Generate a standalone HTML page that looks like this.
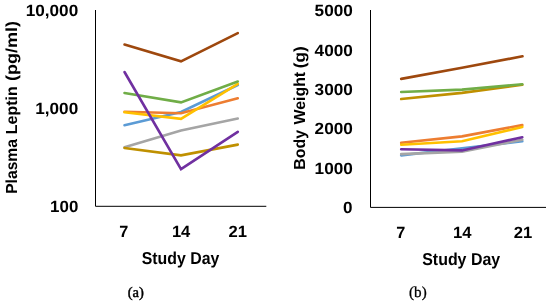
<!DOCTYPE html>
<html><head><meta charset="utf-8"><title>Figure</title>
<style>
html,body{margin:0;padding:0;background:#fff;}
svg{display:block;}
text{text-rendering:geometricPrecision;font-family:"Liberation Sans",sans-serif;font-weight:bold;fill:#000;}
.cap{font-family:"Liberation Serif",serif;font-weight:normal;stroke:#000;stroke-width:0.3;}
.ln{fill:none;stroke-width:2.6;stroke-linecap:round;stroke-linejoin:miter;}
</style></head>
<body>
<svg width="550" height="303" viewBox="0 0 550 303">
<rect width="550" height="303" fill="#fff"/>
<!-- left chart -->
<g>
<polyline class="ln" stroke="#5B9BD5" points="124.5,125.2 181,112 237.8,85"/>
<polyline class="ln" stroke="#ED7D31" points="124.5,111.7 181,113.2 237.8,98.3"/>
<polyline class="ln" stroke="#A5A5A5" points="124.5,147.3 181,130.5 237.8,118.6"/>
<polyline class="ln" stroke="#FFC000" points="124.5,112.3 181,118.9 237.8,83.9"/>
<polyline class="ln" stroke="#70AD47" points="124.5,93 181,102.4 237.8,81.5"/>
<polyline class="ln" stroke="#9E480E" points="124.5,44.6 181,61.3 237.8,33.2"/>
<polyline class="ln" stroke="#BF9000" points="124.5,148 181,155.4 237.8,144.6"/>
<polyline class="ln" stroke="#7030A0" points="124.5,72 181,169.2 237.8,131.8"/>
<path d="M95.5 10V206.3H266.3" fill="none" stroke="#000" stroke-width="1"/>
<text x="78.2" y="15.8" font-size="16.3" text-anchor="end" textLength="52.5" lengthAdjust="spacingAndGlyphs">10,000</text>
<text x="78.2" y="113.7" font-size="16.3" text-anchor="end" textLength="42.9" lengthAdjust="spacingAndGlyphs">1,000</text>
<text x="78.3" y="211.6" font-size="16.3" text-anchor="end" textLength="28.2" lengthAdjust="spacingAndGlyphs">100</text>
<text x="123.9" y="236.7" font-size="16.3" text-anchor="middle">7</text>
<text x="181.1" y="236.7" font-size="16.3" text-anchor="middle" textLength="18.4" lengthAdjust="spacingAndGlyphs">14</text>
<text x="237.8" y="236.7" font-size="16.3" text-anchor="middle" textLength="18.5" lengthAdjust="spacingAndGlyphs">21</text>
<text x="180.5" y="263.7" font-size="17.2" text-anchor="middle" textLength="77.6" lengthAdjust="spacingAndGlyphs">Study Day</text>
<text transform="translate(17.3 193.8) rotate(-90)" font-size="16" textLength="54.7" lengthAdjust="spacingAndGlyphs">Plasma</text>
<text transform="translate(17.3 134.2) rotate(-90)" font-size="16" textLength="48" lengthAdjust="spacingAndGlyphs">Leptin</text>
<text transform="translate(17.3 81) rotate(-90)" font-size="16" textLength="60" lengthAdjust="spacingAndGlyphs">(pg/ml)</text>
<text class="cap" x="135.8" y="296.7" font-size="14.6" text-anchor="middle" style="stroke-width:0.45">(a)</text>
</g>
<!-- right chart -->
<g>
<polyline class="ln" stroke="#5B9BD5" points="401.2,155.4 462,148.3 522.3,141.3"/>
<polyline class="ln" stroke="#ED7D31" points="401.2,142.8 462,136.4 522.3,125.1"/>
<polyline class="ln" stroke="#A5A5A5" points="401.2,154.1 462,151.6 522.3,139.7"/>
<polyline class="ln" stroke="#FFC000" points="401.2,144.7 462,141.3 522.3,126.9"/>
<polyline class="ln" stroke="#BF9000" points="401.2,99 462,92.9 522.3,84.8"/>
<polyline class="ln" stroke="#70AD47" points="401.2,92 462,89.6 522.3,84.3"/>
<polyline class="ln" stroke="#9E480E" points="401.2,78.9 462,67.8 522.5,56.3"/>
<polyline class="ln" stroke="#7030A0" points="401.2,149.3 462,150.4 522.3,137.2"/>
<path d="M370.5 10V207.4H546" fill="none" stroke="#000" stroke-width="1"/>
<text x="352.8" y="16.1" font-size="16.3" text-anchor="end" textLength="38.2" lengthAdjust="spacingAndGlyphs">5000</text>
<text x="352.8" y="55.5" font-size="16.3" text-anchor="end" textLength="38.2" lengthAdjust="spacingAndGlyphs">4000</text>
<text x="352.8" y="94.9" font-size="16.3" text-anchor="end" textLength="38.2" lengthAdjust="spacingAndGlyphs">3000</text>
<text x="352.8" y="134.3" font-size="16.3" text-anchor="end" textLength="38.2" lengthAdjust="spacingAndGlyphs">2000</text>
<text x="352.8" y="173.7" font-size="16.3" text-anchor="end" textLength="38.2" lengthAdjust="spacingAndGlyphs">1000</text>
<text x="352.6" y="212.7" font-size="16.3" text-anchor="end" textLength="9.5" lengthAdjust="spacingAndGlyphs">0</text>
<text x="400.9" y="237.5" font-size="16.3" text-anchor="middle">7</text>
<text x="462.2" y="237.6" font-size="16.3" text-anchor="middle" textLength="18.5" lengthAdjust="spacingAndGlyphs">14</text>
<text x="523" y="237.5" font-size="16.3" text-anchor="middle" textLength="18.5" lengthAdjust="spacingAndGlyphs">21</text>
<text x="461.2" y="264.5" font-size="17.2" text-anchor="middle" textLength="78" lengthAdjust="spacingAndGlyphs">Study Day</text>
<text transform="translate(304.8 169.8) rotate(-90)" font-size="16" textLength="39.8" lengthAdjust="spacingAndGlyphs">Body</text>
<text transform="translate(304.8 124.4) rotate(-90)" font-size="16" textLength="52.5" lengthAdjust="spacingAndGlyphs">Weight</text>
<text transform="translate(304.8 68.3) rotate(-90)" font-size="16" textLength="22" lengthAdjust="spacingAndGlyphs">(g)</text>
<text class="cap" x="417.9" y="296.7" font-size="15.2" text-anchor="middle" textLength="17.6" lengthAdjust="spacingAndGlyphs">(b)</text>
</g>
</svg>
</body></html>
